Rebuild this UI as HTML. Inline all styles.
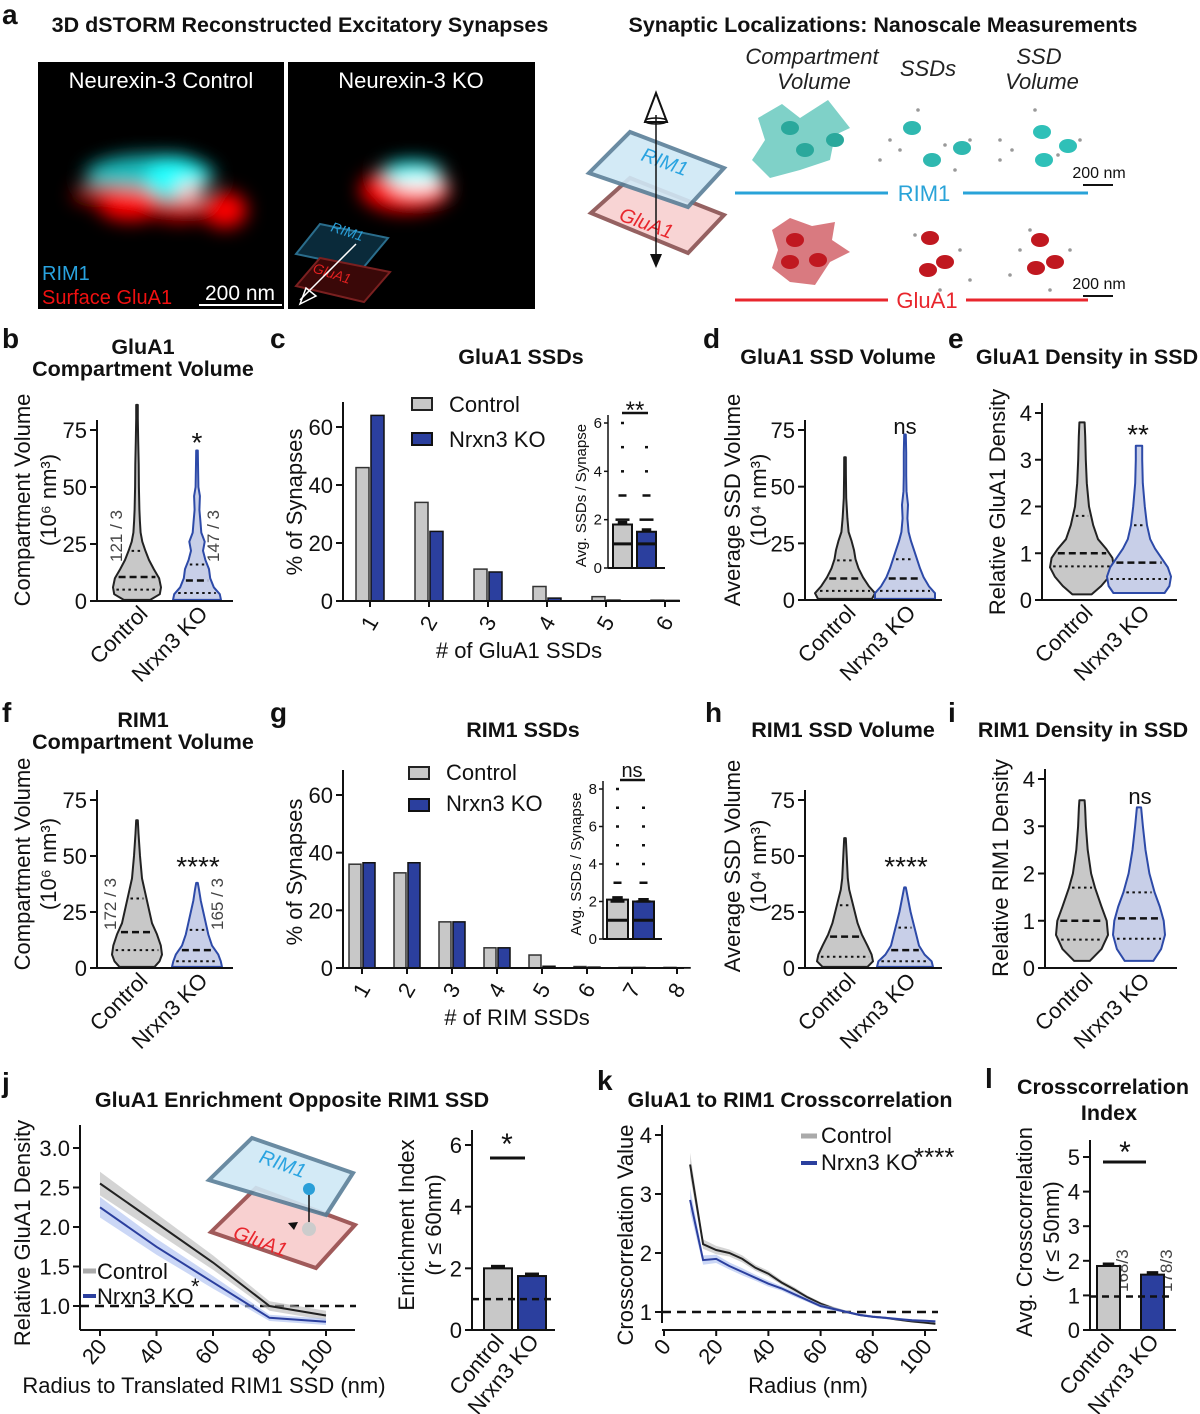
<!DOCTYPE html>
<html><head><meta charset="utf-8"><style>
html,body{margin:0;padding:0;background:#fff;}
svg{display:block;font-family:"Liberation Sans",Arial,sans-serif;}
.t{fill:#111}
.b{font-weight:bold;font-size:21.5px;fill:#111}
.L{font-weight:bold;font-size:28px;fill:#111}
.it{font-style:italic;font-size:22px;fill:#222}
.ax{font-size:22px;fill:#111}
</style></head><body>
<svg id="fig" width="1200" height="1414" viewBox="0 0 1200 1414" xmlns="http://www.w3.org/2000/svg">
<defs>
<filter id="blur" x="-50%" y="-50%" width="200%" height="200%"><feGaussianBlur stdDeviation="9"/></filter>
</defs>
<g>
<text class="L" x="2" y="24">a</text>
<text class="b" x="300" y="32" text-anchor="middle">3D dSTORM Reconstructed Excitatory Synapses</text>
<text class="b" x="883" y="32" text-anchor="middle">Synaptic Localizations: Nanoscale Measurements</text>
<rect x="38" y="62" width="246" height="247" fill="#000"/>
<rect x="288" y="62" width="247" height="247" fill="#000"/>
<g filter="url(#blur)">
<ellipse cx="150" cy="175" rx="65" ry="20" fill="#1fbfc0"/>
<ellipse cx="175" cy="178" rx="28" ry="22" fill="#2ff"/>
<ellipse cx="100" cy="195" rx="28" ry="10" fill="#a10"/>
<ellipse cx="130" cy="205" rx="32" ry="16" fill="#f00"/>
<ellipse cx="225" cy="210" rx="22" ry="18" fill="#f00"/>
<ellipse cx="180" cy="210" rx="30" ry="12" fill="#c00"/>
<ellipse cx="190" cy="192" rx="14" ry="9" fill="#fcc"/>
</g>
<g filter="url(#blur)">
<ellipse cx="405" cy="190" rx="45" ry="22" fill="#f00"/>
<ellipse cx="412" cy="172" rx="30" ry="11" fill="#2ff"/>
<ellipse cx="418" cy="184" rx="26" ry="8" fill="#fff"/>
</g>
<text x="161" y="88" text-anchor="middle" fill="#fff" font-size="22">Neurexin-3 Control</text>
<text x="411" y="88" text-anchor="middle" fill="#fff" font-size="22">Neurexin-3 KO</text>
<text x="42" y="280" fill="#29a3e0" font-size="20">RIM1</text>
<text x="42" y="304" fill="#f01010" font-size="20">Surface GluA1</text>
<text x="240" y="300" fill="#fff" font-size="21" text-anchor="middle">200 nm</text>
<line x1="199" y1="305" x2="282" y2="305" stroke="#fff" stroke-width="2"/>
<g>
<polygon points="296,254 320,224 388,238 363,268" fill="#0a2a3a" stroke="#2a6d8c" stroke-width="2"/>
<polygon points="296,286 320,258 390,272 364,302" fill="#3a0808" stroke="#7a2020" stroke-width="2"/>
<text x="330" y="231" fill="#2a9fd8" font-size="14" font-style="italic" transform="rotate(18 330 231)">RIM1</text>
<text x="312" y="272" fill="#e02020" font-size="14" font-style="italic" transform="rotate(18 312 272)">GluA1</text>
<line x1="300" y1="300" x2="356" y2="244" stroke="#fff" stroke-width="1.5"/>
<polygon points="300,304 306,288 316,296" fill="none" stroke="#fff" stroke-width="1.5"/>
</g>
<g>
<polygon points="591,213 630,178 724,215 688,253" fill="#f8d0d0" stroke="#8a5050" stroke-width="4" opacity="0.9"/>
<polygon points="589,173 630,132 724,168 688,207" fill="#cfe8f6" stroke="#5a7f98" stroke-width="4" opacity="0.9"/>
<text x="640" y="160" fill="#29a3e0" font-size="20" font-style="italic" transform="rotate(20 640 160)">RIM1</text>
<text x="618" y="220" fill="#e8262d" font-size="20" font-style="italic" transform="rotate(20 618 220)">GluA1</text>
<line x1="656" y1="115" x2="656" y2="262" stroke="#111" stroke-width="1.5"/>
<polygon points="650,254 662,254 656,268" fill="#111"/>
<path d="M645,122 L656,93 L667,122 Z" fill="none" stroke="#111" stroke-width="2"/>
<ellipse cx="656" cy="121" rx="11" ry="3" fill="none" stroke="#111" stroke-width="1.5"/>
</g>
<text class="it" x="812" y="64" text-anchor="middle">Compartment</text>
<text class="it" x="814" y="89" text-anchor="middle">Volume</text>
<text class="it" x="928" y="76" text-anchor="middle">SSDs</text>
<text class="it" x="1039" y="64" text-anchor="middle">SSD</text>
<text class="it" x="1042" y="89" text-anchor="middle">Volume</text>
<path d="M758,118 L782,104 L800,118 L828,100 L850,128 L835,135 L830,160 L800,170 L770,178 L752,160 L765,140 Z" fill="#7fd1c8"/>
<path d="M772,230 L790,218 L812,226 L835,222 L832,240 L850,252 L830,262 L815,285 L790,282 L772,268 L778,250 Z" fill="#d97a80"/>
<g id="dots-a"></g>
<line x1="735" y1="193" x2="888" y2="193" stroke="#29a3d8" stroke-width="3"/>
<line x1="963" y1="193" x2="1088" y2="193" stroke="#29a3d8" stroke-width="3"/>
<text x="924" y="201" text-anchor="middle" fill="#29a3d8" font-size="22">RIM1</text>
<line x1="735" y1="300" x2="888" y2="300" stroke="#e8262d" stroke-width="3"/>
<line x1="966" y1="300" x2="1088" y2="300" stroke="#e8262d" stroke-width="3"/>
<text x="927" y="308" text-anchor="middle" fill="#e8262d" font-size="22">GluA1</text>
<text x="1099" y="178" text-anchor="middle" font-size="16" fill="#111">200 nm</text>
<line x1="1083" y1="185" x2="1113" y2="185" stroke="#111" stroke-width="2"/>
<text x="1099" y="289" text-anchor="middle" font-size="16" fill="#111">200 nm</text>
<line x1="1083" y1="296" x2="1113" y2="296" stroke="#111" stroke-width="2"/>
</g>
<text class="L" x="2" y="348">b</text>
<text class="L" x="270" y="348">c</text>
<text class="L" x="703" y="348">d</text>
<text class="L" x="948" y="348">e</text>
<text class="L" x="2" y="722">f</text>
<text class="L" x="270" y="722">g</text>
<text class="L" x="705" y="722">h</text>
<text class="L" x="948" y="722">i</text>
<text class="L" x="2" y="1092">j</text>
<text class="L" x="597" y="1090">k</text>
<text class="L" x="985" y="1088">l</text>
<text class="b" x="143" y="354" text-anchor="middle">GluA1</text>
<text class="b" x="143" y="376" text-anchor="middle">Compartment Volume</text>
<text class="b" x="521" y="364" text-anchor="middle">GluA1 SSDs</text>
<text class="b" x="838" y="364" text-anchor="middle">GluA1 SSD Volume</text>
<text class="b" x="1087" y="364" text-anchor="middle">GluA1 Density in SSD</text>
<text class="b" x="143" y="727" text-anchor="middle">RIM1</text>
<text class="b" x="143" y="749" text-anchor="middle">Compartment Volume</text>
<text class="b" x="523" y="737" text-anchor="middle">RIM1 SSDs</text>
<text class="b" x="843" y="737" text-anchor="middle">RIM1 SSD Volume</text>
<text class="b" x="1083" y="737" text-anchor="middle">RIM1 Density in SSD</text>
<text class="b" x="292" y="1107" text-anchor="middle">GluA1 Enrichment Opposite RIM1 SSD</text>
<text class="b" x="790" y="1107" text-anchor="middle">GluA1 to RIM1 Crosscorrelation</text>
<text class="b" x="1103" y="1094" text-anchor="middle">Crosscorrelation</text>
<text class="b" x="1109" y="1120" text-anchor="middle">Index</text>
<g>
<text class="ax" transform="translate(30,500) rotate(-90)" text-anchor="middle">Compartment Volume</text>
<text class="ax" transform="translate(56,500) rotate(-90)" text-anchor="middle">(10⁶ nm³)</text>
<text class="ax" transform="translate(302,502) rotate(-90)" text-anchor="middle">% of Synapses</text>
<text class="ax" text-anchor="middle" x="519" y="658"># of GluA1 SSDs</text>
<text class="ax" transform="translate(740,500) rotate(-90)" text-anchor="middle">Average SSD Volume</text>
<text class="ax" transform="translate(766,500) rotate(-90)" text-anchor="middle">(10⁴ nm³)</text>
<text class="ax" transform="translate(1005,502) rotate(-90)" text-anchor="middle">Relative GluA1 Density</text>
<text class="ax" transform="translate(30,864) rotate(-90)" text-anchor="middle">Compartment Volume</text>
<text class="ax" transform="translate(56,864) rotate(-90)" text-anchor="middle">(10⁶ nm³)</text>
<text class="ax" transform="translate(302,872) rotate(-90)" text-anchor="middle">% of Synapses</text>
<text class="ax" text-anchor="middle" x="517" y="1025"># of RIM SSDs</text>
<text class="ax" transform="translate(740,866) rotate(-90)" text-anchor="middle">Average SSD Volume</text>
<text class="ax" transform="translate(766,866) rotate(-90)" text-anchor="middle">(10⁴ nm³)</text>
<text class="ax" transform="translate(1008,868) rotate(-90)" text-anchor="middle">Relative RIM1 Density</text>
<text class="ax" transform="translate(30,1233) rotate(-90)" text-anchor="middle">Relative GluA1 Density</text>
<text class="ax" text-anchor="middle" x="204" y="1393">Radius to Translated RIM1 SSD (nm)</text>
<text class="ax" transform="translate(414,1225) rotate(-90)" text-anchor="middle">Enrichment Index</text>
<text class="ax" transform="translate(441,1225) rotate(-90)" text-anchor="middle">(r ≤ 60nm)</text>
<text class="ax" transform="translate(633,1235) rotate(-90)" text-anchor="middle">Crosscorrelation Value</text>
<text class="ax" text-anchor="middle" x="808" y="1393">Radius (nm)</text>
<text class="ax" transform="translate(1032,1232) rotate(-90)" text-anchor="middle">Avg. Crosscorrelation</text>
<text class="ax" transform="translate(1059,1232) rotate(-90)" text-anchor="middle">(r ≤ 50nm)</text>
</g>
<g>
<rect x="412" y="398" width="20" height="12" fill="#c8c8c8" stroke="#222" stroke-width="2"/>
<text class="t" x="449" y="412" font-size="22">Control</text>
<rect x="412" y="433" width="20" height="12" fill="#2b3f9e" stroke="#111" stroke-width="2"/>
<text class="t" x="449" y="447" font-size="22">Nrxn3 KO</text>
<rect x="409" y="767" width="20" height="12" fill="#c8c8c8" stroke="#222" stroke-width="2"/>
<text class="t" x="446" y="780" font-size="22">Control</text>
<rect x="409" y="799" width="20" height="12" fill="#2b3f9e" stroke="#111" stroke-width="2"/>
<text class="t" x="446" y="811" font-size="22">Nrxn3 KO</text>
<line x1="83" y1="1271" x2="96" y2="1271" stroke="#aaa" stroke-width="5"/>
<text class="t" x="97" y="1279" font-size="22">Control</text>
<line x1="83" y1="1296" x2="96" y2="1296" stroke="#2b3f9e" stroke-width="4"/>
<text class="t" x="97" y="1304" font-size="22">Nrxn3 KO</text>
<text class="t" x="191" y="1294" font-size="22">*</text>
<line x1="801" y1="1136" x2="817" y2="1136" stroke="#aaa" stroke-width="5"/>
<text class="t" x="821" y="1143" font-size="22">Control</text>
<line x1="801" y1="1163" x2="817" y2="1163" stroke="#2b3f9e" stroke-width="4"/>
<text class="t" x="821" y="1170" font-size="22">Nrxn3 KO</text>
<text class="t" x="914" y="1166" font-size="26">****</text>
<text class="t" x="197" y="452" font-size="28" text-anchor="middle">*</text>
<text class="t" x="905" y="434" font-size="22" text-anchor="middle">ns</text>
<text class="t" x="1138" y="444" font-size="28" text-anchor="middle">**</text>
<text class="t" x="198" y="876" font-size="28" text-anchor="middle">****</text>
<text class="t" x="906" y="876" font-size="28" text-anchor="middle">****</text>
<text class="t" x="1140" y="804" font-size="22" text-anchor="middle">ns</text>
<text class="t" x="635" y="418" font-size="24" text-anchor="middle">**</text>
<line x1="622" y1="413" x2="648" y2="413" stroke="#111" stroke-width="2.5"/>
<text class="t" x="632" y="777" font-size="20" text-anchor="middle">ns</text>
<line x1="620" y1="780" x2="645" y2="780" stroke="#111" stroke-width="2.5"/>
<text class="t" x="507" y="1154" font-size="30" text-anchor="middle">*</text>
<line x1="490" y1="1158" x2="525" y2="1158" stroke="#111" stroke-width="3"/>
<text class="t" x="1125" y="1162" font-size="30" text-anchor="middle">*</text>
<line x1="1103" y1="1162" x2="1146" y2="1162" stroke="#111" stroke-width="3"/>
<text fill="#444" font-size="17" transform="translate(122,562) rotate(-90)">121 / 3</text>
<text fill="#444" font-size="17" transform="translate(219,562) rotate(-90)">147 / 3</text>
<text fill="#444" font-size="17" transform="translate(116,930) rotate(-90)">172 / 3</text>
<text fill="#444" font-size="17" transform="translate(223,930) rotate(-90)">165 / 3</text>
<text fill="#444" font-size="17" transform="translate(1128,1292) rotate(-90)">168/3</text>
<text fill="#444" font-size="17" transform="translate(1172,1292) rotate(-90)">178/3</text>
</g>
<g>
<polygon points="211,1232 256,1188 355,1225 316,1268" fill="#f8d0d0" stroke="#a05a5a" stroke-width="4"/>
<polygon points="209,1180 252,1138 353,1173 326,1215" fill="#cfe8f6" stroke="#5a7f98" stroke-width="4" opacity="0.9"/>
<text x="258" y="1162" fill="#29a3e0" font-size="20" font-style="italic" transform="rotate(20 258 1162)">RIM1</text>
<text x="232" y="1238" fill="#e8262d" font-size="20" font-style="italic" transform="rotate(20 232 1238)">GluA1</text>
<line x1="309" y1="1190" x2="309" y2="1226" stroke="#111" stroke-width="1.5"/>
<circle cx="309" cy="1189" r="6" fill="#2a9fd8"/>
<circle cx="309" cy="1229" r="7" fill="#ccc"/>
<polygon points="288,1223 298,1222 294,1230" fill="#111"/>
</g>
<g id="charts"></g>
</svg>
<script>
// ---------- DATA ----------
const cCats=[1,2,3,4,5,6];
const cCtrl=[46,34,11,5,1.5,0.3];
const cKO=[64,24,10,1,0.3,0.2];
const cInsetMeans=[1.8,1.5];
const cInsetDotsCtrl=[2,3,4,5,6];
const cInsetDotsKO=[2,3,4,5];
const gCats=[1,2,3,4,5,6,7,8];
const gCtrl=[36,33,16,7,4.5,0.5,0.2,0.2];
const gKO=[36.5,36.5,16,7,0.6,0.3,0.2,0.1];
const gInsetMeans=[2.1,2.0];
const gInsetDotsCtrl=[2,3,4,5,6,7,8];
const gInsetDotsKO=[2,3,4,5,6,7];
const volTicks=[0,25,50,75];
const densTicks=[0,1,2,3,4];
const pctTicks=[0,20,40,60];
const bCtrlV=[0.5,3,6,10,14,18,22,26,30,35,40,50,60,70,80,86];
const bCtrlD=[0.55,0.95,1,0.92,0.7,0.5,0.35,0.22,0.15,0.12,0.1,0.08,0.07,0.05,0.03,0];
const bCtrlQ=[5,10.5,22];
const bKOV=[0.5,3,6,10,14,18,22,26,30,35,40,46,50,55,60,66];
const bKOD=[1,0.95,0.7,0.55,0.5,0.35,0.25,0.32,0.18,0.14,0.1,0.12,0.06,0.05,0.04,0];
const bKOQ=[3.5,9,16];
const dCtrlV=[0.5,3,6,10,14,18,22,26,30,36,45,55,63];
const dCtrlD=[0.9,1,0.8,0.6,0.45,0.35,0.3,0.22,0.12,0.08,0.04,0.03,0];
const dCtrlQ=[4,9.5,17.5];
const dKOV=[0.5,3,6,10,14,18,22,26,30,36,42,48,55,65,73];
const dKOD=[1,1,0.8,0.62,0.5,0.4,0.3,0.2,0.12,0.08,0.1,0.05,0.04,0.04,0];
const dKOQ=[4,9.5,18];
const eCtrlV=[0.12,0.3,0.5,0.7,0.9,1.1,1.3,1.6,2,2.5,3,3.5,3.8];
const eCtrlD=[0.3,0.6,0.85,1,0.95,0.75,0.5,0.35,0.22,0.15,0.12,0.1,0.08];
const eCtrlQ=[0.72,1.0,1.8];
const eKOV=[0.15,0.3,0.5,0.7,0.9,1.1,1.3,1.6,2,2.5,3,3.3];
const eKOD=[0.8,0.95,1,0.9,0.7,0.5,0.35,0.25,0.18,0.12,0.1,0.1];
const eKOQ=[0.45,0.8,1.6];
const fCtrlV=[0.5,3,6,10,15,20,25,30,35,40,50,60,66];
const fCtrlD=[0.7,0.9,1,0.95,0.8,0.6,0.5,0.4,0.3,0.2,0.12,0.06,0];
const fCtrlQ=[8,16,31];
const fKOV=[0.5,3,6,10,15,20,25,30,35,38];
const fKOD=[1,0.95,0.85,0.6,0.45,0.35,0.25,0.15,0.08,0];
const fKOQ=[3,8,17];
const hCtrlV=[0.5,3,6,10,15,20,25,30,35,40,50,58];
const hCtrlD=[0.8,1,0.95,0.8,0.6,0.45,0.35,0.25,0.15,0.1,0.06,0];
const hCtrlQ=[5,14,28];
const hKOV=[0.5,3,6,10,15,20,25,30,36];
const hKOD=[1,0.95,0.7,0.5,0.4,0.3,0.2,0.12,0];
const hKOQ=[3,8,18];
const iCtrlV=[0.15,0.4,0.7,1,1.3,1.7,2,2.5,3,3.4,3.55];
const iCtrlD=[0.3,0.75,1,0.95,0.75,0.5,0.35,0.22,0.15,0.12,0.1];
const iCtrlQ=[0.6,1,1.7];
const iKOV=[0.15,0.4,0.7,1,1.3,1.6,2,2.5,3,3.4];
const iKOD=[0.55,0.85,1,0.95,0.8,0.6,0.4,0.25,0.15,0.08];
const iKOQ=[0.62,1.05,1.6];
const jRadius=[20,40,60,80,100];
const jCtrl=[2.55,2.05,1.55,1.0,0.88];
const jKO=[2.25,1.75,1.3,0.85,0.8];
const jCtrlSem=[0.15,0.12,0.09,0.06,0.06];
const jKOSem=[0.13,0.1,0.08,0.04,0.04];
const jYTicks=[1.0,1.5,2.0,2.5,3.0];
const jXTicks=[20,40,60,80,100];
const jBarMeans=[2.0,1.75];
const jBarTicks=[0,2,4,6];
const kRadius=[10,15,20,25,30,35,40,45,50,55,60,65,70,75,80,85,90,95,100,104];
const kCtrl=[3.5,2.15,2.05,2.0,1.9,1.75,1.65,1.5,1.38,1.25,1.14,1.06,1.0,0.95,0.92,0.9,0.87,0.84,0.82,0.8];
const kKO=[2.9,1.88,1.9,1.78,1.68,1.58,1.48,1.4,1.3,1.2,1.1,1.05,1.0,0.95,0.92,0.9,0.88,0.86,0.85,0.84];
const kSem=[0.2,0.08,0.07,0.06,0.06,0.05,0.05,0.04,0.04,0.03,0.03,0.03,0.02,0.02,0.02,0.02,0.02,0.02,0.02,0.02];
const kYTicks=[1,2,3,4];
const kXTicks=[0,20,40,60,80,100];
const lBarMeans=[1.85,1.6];
const lBarTicks=[0,1,2,3,4,5];
const groupLabels=["Control","Nrxn3 KO"];

// ---------- HELPERS ----------
const NS="http://www.w3.org/2000/svg";
const root=document.getElementById('charts');
function mk(tag,parent,attrs){const e=document.createElementNS(NS,tag);for(const k in attrs)e.setAttribute(k,attrs[k]);parent.appendChild(e);return e;}
function lin(d0,d1,r0,r1){return v=>r0+(v-d0)*(r1-r0)/(d1-d0);}
function grp(name){const g=mk('g',root,{});


return g;}
function yAxis(g,x,yb,yt,sc,ticks,fmt){
 const l=mk('line',g,{x1:x,y1:yb,x2:x,y2:yt,stroke:'#111','stroke-width':2});
 
 
 ticks.forEach(t=>{const y=sc(t);
  const tk=mk('line',g,{x1:x-7,y1:y,x2:x,y2:y,stroke:'#111','stroke-width':2});
  
  
  const tx=mk('text',g,{x:x-10,y:y+8,'text-anchor':'end','font-size':22,fill:'#111'});
  tx.textContent=fmt?fmt(t):t;
  
  });}
function xAxis(g,x1,x2,y){const l=mk('line',g,{x1:x1,y1:y,x2:x2,y2:y,stroke:'#111','stroke-width':2});
 
 }
function rotLabel(g,x,y,txt,ang,fs){const t=mk('text',g,{'text-anchor':'end','font-size':fs||22,fill:'#111',transform:`translate(${x},${y}) rotate(${ang})`});
 t.textContent=txt;
 
 
 return t;}
function interp(V,D,v){for(let i=0;i<V.length-1;i++){if(v>=V[i]&&v<=V[i+1]){const f=(v-V[i])/(V[i+1]-V[i]);return D[i]+f*(D[i+1]-D[i]);}}return v<V[0]?D[0]:D[D.length-1];}
function violin(g,cx,sc,V,D,Q,hw,ko,name){
 let r=[],l=[];
 V.forEach((v,i)=>{const w=Math.max(D[i]*hw,0.8);r.push([cx+w,sc(v)]);l.push([cx-w,sc(v)]);});
 let d='M'+r.map(p=>p[0].toFixed(1)+','+p[1].toFixed(1)).join(' L')+' L'+l.reverse().map(p=>p[0].toFixed(1)+','+p[1].toFixed(1)).join(' L')+' Z';
 const p=mk('path',g,{d:d,fill:ko?'#c8cfe8':'#c8c8c8',stroke:ko?'#2d4aa8':'#222','stroke-width':2,'stroke-linejoin':'round'});
 
 
 Q.forEach((q,i)=>{const w=interp(V,D,q)*hw-3;const y=sc(q);
  const ql=mk('line',g,{x1:cx-w,y1:y,x2:cx+w,y2:y,stroke:'#111','stroke-width':i==1?2.5:2,'stroke-dasharray':i==1?'7 4':'2.5 3.5'});
  
  });}
function violinPanel(name,x,x2,yb,yt,dmax,ticks,cxs,hw,vc,dc,qc,vk,dk,qk,fmt){
 const g=grp(name);const sc=lin(0,dmax,yb,yt);
 violin(g,cxs[0],sc,vc,dc,qc,hw,false,name+'-control-violin');
 violin(g,cxs[1],sc,vk,dk,qk,hw,true,name+'-ko-violin');
 yAxis(g,x,yb,yt-10,sc,ticks,fmt);xAxis(g,x,x2,yb);
 rotLabel(g,cxs[0]+12,yb+14,groupLabels[0],-45);
 rotLabel(g,cxs[1]+12,yb+14,groupLabels[1],-45);}
function barGroups(name,x,x2,yb,yt,dmax,ticks,cats,ctrl,ko,x0,step,bw){
 const g=grp(name);const sc=lin(0,dmax,yb,yt);const xs=c=>x0+(c-cats[0])*step;
 cats.forEach((c,i)=>{
  const a=mk('rect',g,{x:xs(c)-bw-1,y:sc(ctrl[i]),width:bw,height:yb-sc(ctrl[i]),fill:'#c8c8c8',stroke:'#333','stroke-width':1.5});
  
  
  const b=mk('rect',g,{x:xs(c)+1,y:sc(ko[i]),width:bw,height:yb-sc(ko[i]),fill:'#2b3f9e',stroke:'#111','stroke-width':1.5});
  
  
  const tk=mk('line',g,{x1:xs(c),y1:yb,x2:xs(c),y2:yb+6,stroke:'#111','stroke-width':2});
  
  
  const t=mk('text',g,{'text-anchor':'middle','font-size':22,fill:'#111',transform:`translate(${xs(c)+6},${yb+26}) rotate(-60)`});
  t.textContent=c;
  
  });
 yAxis(g,x,yb,yt-25,sc,ticks);xAxis(g,x,x2,yb);}
function meanBars(g,sc,yb,xs,bw,means){
 means.forEach((m,i)=>{
  const r=mk('rect',g,{x:xs[i],y:sc(m),width:bw,height:yb-sc(m),fill:i?'#2b3f9e':'#c8c8c8',stroke:'#111','stroke-width':2});
  
  
  const e=mk('line',g,{x1:xs[i]+bw*0.25,y1:sc(m)-2,x2:xs[i]+bw*0.75,y2:sc(m)-2,stroke:'#111','stroke-width':3});
  
  });}
function inset(name,x,x2,yb,yt,dmax,ticks,means,dotsC,dotsK,xs,bw){
 const g=grp(name);const sc=lin(0,dmax,yb,yt);
 meanBars(g,sc,yb,xs,bw,means);
 [dotsC,dotsK].forEach((arr,j)=>{arr.forEach(v=>{
  const w=v<=2?7:(v<=3?4:1.5);
  const d=mk('line',g,{x1:xs[j]+bw/2-w,y1:sc(v),x2:xs[j]+bw/2+w,y2:sc(v),stroke:'#111','stroke-width':2.5});
  
  });
  const m=mk('line',g,{x1:xs[j]+1,y1:sc(1),x2:xs[j]+bw-1,y2:sc(1),stroke:'#111','stroke-width':3});
  
  });
 const l=mk('line',g,{x1:x,y1:yb,x2:x,y2:yt-8,stroke:'#111','stroke-width':1.5});
 
 
 xAxis(g,x,x2,yb);
 ticks.forEach(t=>{const tk=mk('line',g,{x1:x-4,y1:sc(t),x2:x,y2:sc(t),stroke:'#111','stroke-width':1.5});
  
  
  const tx=mk('text',g,{x:x-6,y:sc(t)+5,'text-anchor':'end','font-size':15,fill:'#111'});
  tx.textContent=t;
  
  });
 const yt2=mk('text',g,{'text-anchor':'middle','font-size':15,fill:'#111',transform:`translate(${x-22},${(yb+yt)/2}) rotate(-90)`});
 yt2.textContent='Avg. SSDs / Synapse';
 
 }
function linePanel(name,g,xs,ys,X,Y,S,color,band){
 const up=X.map((x,i)=>xs(x).toFixed(1)+','+ys(Y[i]+S[i]).toFixed(1));
 const dn=X.map((x,i)=>xs(x).toFixed(1)+','+ys(Y[i]-S[i]).toFixed(1)).reverse();
 const b=mk('polygon',g,{points:up.concat(dn).join(' '),fill:band,opacity:0.6});
 
 
 const p=mk('polyline',g,{points:X.map((x,i)=>xs(x).toFixed(1)+','+ys(Y[i]).toFixed(1)).join(' '),fill:'none',stroke:color,'stroke-width':2});
 
 }

// ---------- PANELS ----------
violinPanel('panel-b',97,233,601,430,75,volTicks,[137,197],24,bCtrlV,bCtrlD,bCtrlQ,bKOV,bKOD,bKOQ);
violinPanel('panel-d',805,942,600,430,75,volTicks,[845,905],30,dCtrlV,dCtrlD,dCtrlQ,dKOV,dKOD,dKOQ);
violinPanel('panel-e',1042,1177,600,413,4,densTicks,[1082,1139],32,eCtrlV,eCtrlD,eCtrlQ,eKOV,eKOD,eKOQ);
violinPanel('panel-f',97,233,968,800,75,volTicks,[137,197],25,fCtrlV,fCtrlD,fCtrlQ,fKOV,fKOD,fKOQ);
violinPanel('panel-h',805,942,968,800,75,volTicks,[845,905],28,hCtrlV,hCtrlD,hCtrlQ,hKOV,hKOD,hKOQ);
violinPanel('panel-i',1045,1177,968,779,4,densTicks,[1082,1139],26,iCtrlV,iCtrlD,iCtrlQ,iKOV,iKOD,iKOQ);
barGroups('panel-c',343,680,601,427,60,pctTicks,cCats,cCtrl,cKO,370,59,13);
barGroups('panel-g',343,684,968,795,60,pctTicks,gCats,gCtrl,gKO,362,45,12);
inset('panel-c-inset',608,665,568,423,6,[0,2,4,6],cInsetMeans,cInsetDotsCtrl,cInsetDotsKO,[613,637],19);
inset('panel-g-inset',603,662,939,789,8,[0,2,4,6,8],gInsetMeans,gInsetDotsCtrl,gInsetDotsKO,[607,633],21);

(function(){const g=grp('panel-j');
 const ys=lin(1,3,1306,1148), xs=lin(20,100,100,326);
 const d=mk('line',g,{x1:80,y1:ys(1),x2:356,y2:ys(1),stroke:'#111','stroke-width':2.5,'stroke-dasharray':'9 6'});
 
 
 linePanel('j-control',g,xs,ys,jRadius,jCtrl,jCtrlSem,'#222','#b8b8b8');
 linePanel('j-ko',g,xs,ys,jRadius,jKO,jKOSem,'#2b3f9e','#a8bdf0');
 yAxis(g,80,1330,1125,ys,jYTicks,t=>t.toFixed(1));xAxis(g,80,355,1330);
 jXTicks.forEach(t=>{const tk=mk('line',g,{x1:xs(t),y1:1330,x2:xs(t),y2:1336,stroke:'#111','stroke-width':2});
  
  
  rotLabel(g,xs(t)+8,1347,t,-50);});})();
(function(){const g=grp('panel-j-bars');const ys=lin(0,6,1330,1145);
 meanBars(g,ys,1330,[484,518],28,jBarMeans);
 const d=mk('line',g,{x1:472,y1:ys(1),x2:552,y2:ys(1),stroke:'#111','stroke-width':2.5,'stroke-dasharray':'7 5'});
 
 
 yAxis(g,472,1330,1130,ys,jBarTicks);xAxis(g,472,555,1330);
 rotLabel(g,505,1342,groupLabels[0],-50);rotLabel(g,540,1342,groupLabels[1],-50);})();
(function(){const g=grp('panel-k');
 const ys=lin(1,4,1312,1135), xs=lin(0,100,664,925);
 const d=mk('line',g,{x1:662,y1:ys(1),x2:938,y2:ys(1),stroke:'#111','stroke-width':2.5,'stroke-dasharray':'9 6'});
 
 
 linePanel('k-control',g,xs,ys,kRadius,kCtrl,kSem,'#222','#b8b8b8');
 linePanel('k-ko',g,xs,ys,kRadius,kKO,kSem,'#2b3f9e','#a8bdf0');
 yAxis(g,662,1323,1125,ys,kYTicks);xAxis(g,662,937,1330);
 kXTicks.forEach(t=>{const tk=mk('line',g,{x1:xs(t),y1:1330,x2:xs(t),y2:1336,stroke:'#111','stroke-width':2});
  
  
  rotLabel(g,xs(t)+8,1347,t,-50);});})();
(function(){const g=grp('panel-l');const ys=lin(0,5,1330,1157);
 meanBars(g,ys,1330,[1097,1141],23,lBarMeans);
 const d=mk('line',g,{x1:1090,y1:ys(0.97),x2:1170,y2:ys(0.97),stroke:'#111','stroke-width':2.5,'stroke-dasharray':'7 5'});
 
 
 yAxis(g,1090,1330,1140,ys,lBarTicks);xAxis(g,1090,1176,1330);
 rotLabel(g,1115,1342,groupLabels[0],-50);rotLabel(g,1160,1342,groupLabels[1],-50);})();
(function(){const g=document.getElementById('dots-a');
 const clusters=[[790,128,'#2aa89c'],[805,150,'#2aa89c'],[835,140,'#2aa89c'],[912,128,'#2fb8b0'],[932,160,'#2fb8b0'],[962,148,'#2fb8b0'],[1042,132,'#2fc0b8'],[1044,160,'#2fc0b8'],[1068,146,'#2fc0b8'],
  [795,240,'#c01820'],[790,262,'#c01820'],[818,260,'#c01820'],[930,238,'#c01820'],[945,262,'#c01820'],[928,270,'#c01820'],[1040,240,'#c01820'],[1036,268,'#c01820'],[1055,262,'#c01820']];
 clusters.forEach(c=>{const e=mk('ellipse',g,{cx:c[0],cy:c[1],rx:9,ry:7,fill:c[2]});
  
  });
 const grey=[[890,140],[900,150],[918,110],[945,145],[955,170],[970,140],[880,160],[1000,140],[1012,150],[1035,110],[1058,155],[1080,140],[1000,160],[915,235],[960,250],[970,280],[940,290],[1020,250],[1030,230],[1070,250],[1050,290],[1010,275]];
 grey.forEach(c=>{const e=mk('circle',g,{cx:c[0],cy:c[1],r:1.8,fill:'#999'});
  
  });})();
</script>
</body></html>
